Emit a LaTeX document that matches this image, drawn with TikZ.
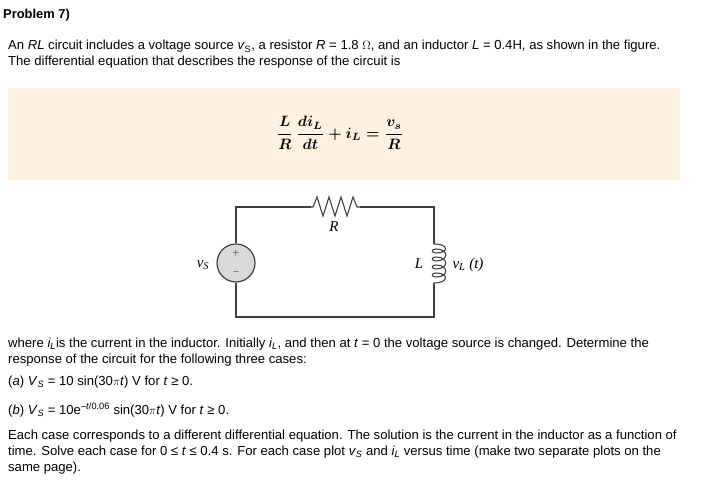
\documentclass[tikz,border=0pt]{standalone}
\usepackage{fontspec}
\usepackage{amsmath}
\setmainfont{Liberation Sans}
\newfontfamily\serifm{Liberation Serif}
\begin{document}
\begin{tikzpicture}[x=1pt,y=-1pt,
  txt/.style={anchor=base west,inner sep=0pt,font=\fontsize{13.1}{14}\selectfont},
  lab/.style={font=\serifm\itshape\fontsize{15}{15}\selectfont},
  wire/.style={line width=1.1pt,draw=black!75}]
\useasboundingbox (0,0) rectangle (707,489);
\node[txt,font=\bfseries\fontsize{12.9}{14}\selectfont] (title) at (3,19) {Problem 7)};
\node[txt] (l1) at (8,50) {An \textit{RL} circuit includes a voltage source \textit{v}\textsubscript{S}, a resistor \textit{R} = 1.8 $\Omega$, and an inductor \textit{L} = 0.4H, as shown in the figure.};
\node[txt] (l2) at (8,66) {The differential equation that describes the response of the circuit is};
\fill[fill={rgb,255:red,253;green,242;blue,225}] (8,88) rectangle (680,180);
\node[scale=1.5] (eq) at (340,133) {$\boldsymbol{\dfrac{L}{R}\,\dfrac{di_L}{dt} + i_L = \dfrac{v_s}{R}}$};
% circuit
\coordinate (tl) at (236,207); \coordinate (tr) at (434,207);
\coordinate (bl) at (236,317); \coordinate (br) at (434,317);
\coordinate (ra) at (311,207); \coordinate (rb) at (360,207);
\node[circle,draw=black!80,line width=1.1pt,fill=black!15,minimum size=38pt,inner sep=0pt] (src) at (236,263) {};
\node[font=\fontsize{9}{9}\selectfont,inner sep=0pt] (plus) at (236,253) {$+$};
\node[font=\fontsize{9}{9}\selectfont,inner sep=0pt] (minus) at (236,272) {$-$};
\coordinate (ia) at (434,244); \coordinate (ib) at (434,283);
\draw[wire] (src.north) -- (tl) -- (ra);
\draw[wire] (ra) -- (313,207) -- (317,197) -- (323,216) -- (329,197) -- (335,216) -- (341,197) -- (347,216) -- (353,197) -- (357,207) -- (rb);
\draw[wire] (rb) -- (tr) -- (ia);
\draw[wire] (ia) .. controls (449,244) and (449,253) .. (436,253)
  .. controls (431,253) and (431,249) .. (436,249)
  .. controls (449,249) and (449,261) .. (436,261)
  .. controls (431,261) and (431,257) .. (436,257)
  .. controls (449,257) and (449,269) .. (436,269)
  .. controls (431,269) and (431,265) .. (436,265)
  .. controls (449,265) and (449,277) .. (436,277)
  .. controls (431,277) and (431,273) .. (436,273)
  .. controls (449,273) and (449,283) .. (ib);
\draw[wire] (ib) -- (br) -- (bl) -- (src.south);
\node[lab] (Rl) at (334,227) {R};
\node[lab] (Ll) at (419,264) {L};
\node[lab,anchor=west] (vl) at (449,265) {v\textsubscript{L} (t)};
\node[lab] (vs) at (203,265) {v\textsubscript{S}};
% lower text
\node[txt] (l3) at (8,347) {where \textit{i\textsubscript{L}}is the current in the inductor. Initially \textit{i\textsubscript{L}}, and then at \textit{t} = 0 the voltage source is changed. Determine the};
\node[txt] (l4) at (8,363) {response of the circuit for the following three cases:};
\node[txt] (l5) at (8,385) {(\textit{a}) \textit{V}\textsubscript{\textit{S}} = 10 sin(30\textit{$\pi$t}) V for \textit{t} ≥ 0.};
\node[txt] (l6) at (8,414) {(\textit{b}) \textit{V}\textsubscript{\textit{S}} = 10e\textsuperscript{–\textit{t}/0.06} sin(30\textit{$\pi$t}) V for \textit{t} ≥ 0.};
\node[txt] (l7) at (8,439) {Each case corresponds to a different differential equation. The solution is the current in the inductor as a function of};
\node[txt] (l8) at (8,455) {time. Solve each case for 0 ≤ \textit{t} ≤ 0.4 s. For each case plot \textit{v}\textsubscript{\textit{S}} and \textit{i\textsubscript{L}} versus time (make two separate plots on the};
\node[txt] (l9) at (8,471) {same page).};
\end{tikzpicture}
\end{document}
